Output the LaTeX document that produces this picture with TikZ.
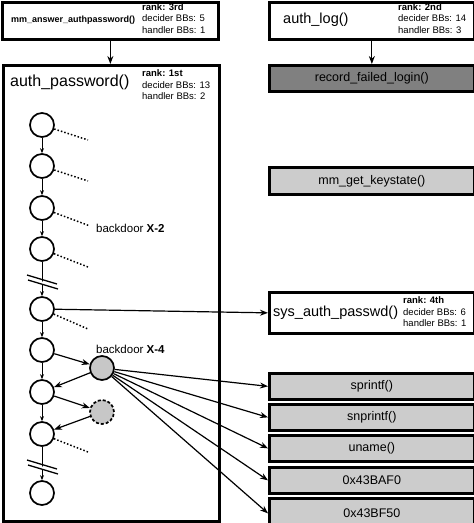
\documentclass[tikz,border=0pt]{standalone}
\usepackage{fontspec}
\setmainfont{Liberation Sans}
\usetikzlibrary{arrows.meta}

\begin{document}
\begin{tikzpicture}[x=1pt, y=-1pt,
	fnbox/.style={draw=black, line width=2.7pt, anchor=north west, inner sep=0pt, minimum width=205pt},
	callbox/.style={fnbox, fill=black!20, minimum height=26pt, font=\fontsize{12.5}{14}\selectfont},
	rankinfo/.style={anchor=north west, inner sep=0pt, align=left, font=\fontsize{9.5}{11.5}\selectfont},
	fnname/.style={anchor=west, inner sep=0pt, font=\fontsize{14.5}{17}\selectfont},
	bb/.style={circle, draw=black, line width=1.7pt, minimum size=24pt, inner sep=0pt, fill=white},
	flow/.style={line width=1.2pt, -{Stealth[length=8pt, width=6pt]}},
	down/.style={line width=1pt, -{Stealth[length=5pt, width=4pt]}},
	hint/.style={line width=1.5pt, dash pattern=on 1.5pt off 2pt}]
	\useasboundingbox (0,0) rectangle (474,523);
	% callers
	\node[fnbox, minimum width=216pt, minimum height=37pt] (answer) at (1,1) {};
	\node[anchor=west, inner sep=0pt, font=\bfseries\fontsize{9}{11}\selectfont] (answername) at (11,20) {mm\_answer\_authpassword()};
	\node[rankinfo] (answerrank) at (142,3) {\textbf{rank: 3rd}\\decider BBs: 5\\handler BBs: 1};
	\node[fnbox, minimum height=37pt] (authlog) at (268,1) {};
	\node[fnname] (authlogname) at (283,20) {auth\_log()};
	\node[rankinfo] (authlogrank) at (398,3) {\textbf{rank: 2nd}\\decider BBs: 14\\handler BBs: 3};
	% auth_password
	\node[fnbox, line width=2.5pt, minimum width=216pt, minimum height=456pt] (authpw) at (2,64) {};
	\node[fnname, font=\fontsize{16}{18}\selectfont] (authpwname) at (10,82) {auth\_password()};
	\node[rankinfo] (authpwrank) at (142,69.5) {\textbf{rank: 1st}\\decider BBs: 13\\handler BBs: 2};
	% callees
	\node[callbox, fill=black!50] (record) at (268,64) {record\_failed\_login()};
	\node[callbox, minimum height=27pt] (keystate) at (268,166) {mm\_get\_keystate()};
	\node[fnbox, minimum height=41pt] (sysauth) at (268,291) {};
	\node[fnname] (sysauthname) at (273,313) {sys\_auth\_passwd()};
	\node[rankinfo] (sysauthrank) at (403,296.5) {\textbf{rank: 4th}\\decider BBs: 6\\handler BBs: 1};
	\node[callbox] (sprintf) at (268,372) {sprintf()};
	\node[callbox] (snprintf) at (268,403) {snprintf()};
	\node[callbox] (uname) at (268,434) {uname()};
	\node[callbox] (baf0) at (268,466) {0x43BAF0};
	\node[callbox, minimum height=30pt] (bf50) at (268,497) {0x43BF50};
	\draw[flow] (answer.south) -- (answer.south |- authpw.north);
	\draw[flow] (authlog.south) -- (authlog.south |- record.north);
	% basic blocks
	\foreach \n/\y in {1/125, 2/166, 3/208, 4/249, 5/309, 6/350, 7/392, 8/434, 9/493}
		\node[bb] (c\n) at (42,\y) {};
	\node[bb, fill=black!22] (g1) at (102,368) {};
	\node[bb, fill=black!22, dash pattern=on 3pt off 2pt] (g2) at (102,412) {};
	\foreach \a/\b in {1/2, 2/3, 3/4, 4/5, 5/6, 6/7, 7/8, 8/9}
		\draw[down] (c\a) -- (c\b);
	% breaks
	\foreach \m in {280, 465} {
		\fill[white] (29,\m-3) -- (56,\m+6) -- (56,\m+9) -- (29,\m) -- cycle;
		\draw[line width=1.3pt] (27,\m-5) -- (57,\m+4);
		\draw[line width=1.3pt] (28,\m) -- (58,\m+9);
	}
	\foreach \n/\x/\y in {1/88/140, 2/88/181, 3/90/226, 4/88/267, 5/88/329, 8/88/452} {
		\coordinate (hint\n) at (\x,\y);
		\draw[hint] (c\n) -- (hint\n);
	}
	\node[anchor=west, inner sep=0pt, font=\fontsize{11.5}{14}\selectfont] (x2) at (96,228) {backdoor \textbf{X-2}};
	\node[anchor=west, inner sep=0pt, font=\fontsize{11.5}{14}\selectfont] (x4) at (96,349) {backdoor \textbf{X-4}};
	\draw[flow] (c5) -- (sysauth.west);
	\draw[flow] (c6) -- (g1);
	\draw[flow] (g1) -- (c7);
	\draw[flow] (c7) -- (g2);
	\draw[flow] (g2) -- (c8);
	\foreach \t in {sprintf, snprintf, uname, baf0, bf50}
		\draw[flow] (g1) -- (\t.west);
\end{tikzpicture}
\end{document}
